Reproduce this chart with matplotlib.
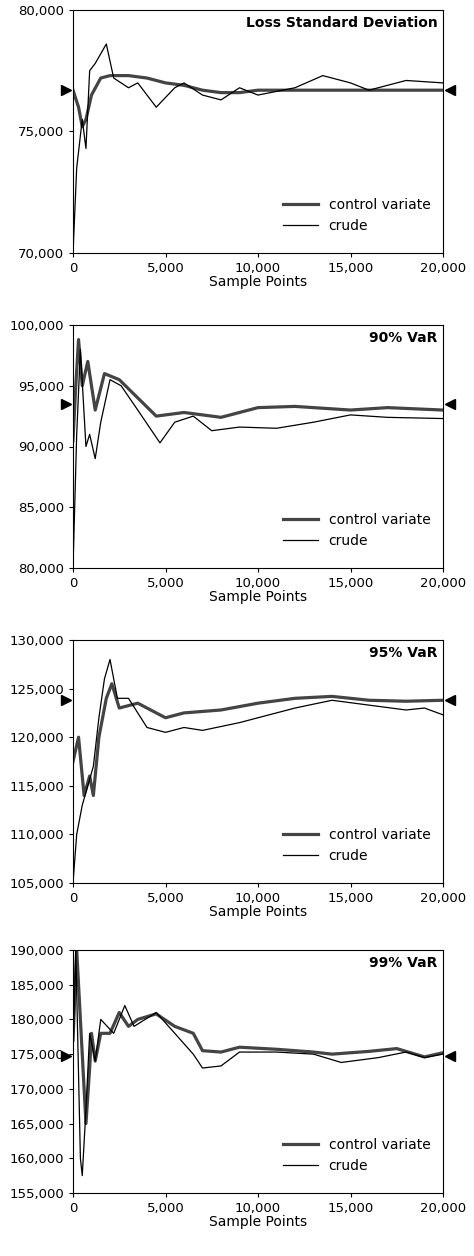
import matplotlib.pyplot as plt
import matplotlib.transforms as mtransforms
from matplotlib.ticker import FuncFormatter

titles = ['Loss Standard Deviation', '90% VaR', '95% VaR', '99% VaR']
ylims = [(70000, 80000), (80000, 100000), (105000, 130000), (155000, 190000)]
ystep = [5000, 5000, 5000, 5000]
targets = [76700, 93500, 123800, 174800]

cv_x = [
    [0, 300, 500, 700, 1000, 1500, 2000, 3000, 4000, 5000, 6000, 7000, 8000, 9000, 10000, 12000, 14000, 16000, 18000, 20000],
    [0, 150, 300, 500, 800, 1200, 1700, 2500, 3500, 4500, 6000, 8000, 10000, 12000, 15000, 17000, 20000],
    [0, 300, 600, 900, 1100, 1400, 1800, 2100, 2500, 3500, 5000, 6000, 8000, 10000, 12000, 14000, 16000, 18000, 20000],
    [0, 200, 400, 700, 900, 1000, 1200, 1500, 2000, 2500, 3000, 3500, 4500, 5500, 6500, 7000, 8000, 9000, 11000, 13000, 14000, 16000, 17500, 18500, 19000, 20000],
]
cv_y = [
    [76700, 76000, 75200, 75500, 76500, 77200, 77300, 77300, 77200, 77000, 76900, 76700, 76600, 76600, 76700, 76700, 76700, 76700, 76700, 76700],
    [90500, 95000, 98800, 95000, 97000, 93000, 96000, 95500, 94000, 92500, 92800, 92400, 93200, 93300, 93000, 93200, 93000],
    [117500, 120000, 114000, 116000, 114000, 120000, 124000, 125500, 123000, 123500, 122000, 122500, 122800, 123500, 124000, 124200, 123800, 123700, 123800],
    [177000, 190000, 180000, 165000, 173000, 178000, 174000, 178000, 178000, 181000, 179000, 180000, 180800, 179000, 178000, 175500, 175300, 176000, 175700, 175300, 175000, 175400, 175800, 175000, 174600, 175200],
]
cr_x = [
    [0, 200, 500, 700, 900, 1200, 1800, 2200, 3000, 3500, 4500, 5500, 6000, 7000, 8000, 9000, 10000, 12000, 13500, 15000, 16000, 18000, 20000],
    [0, 200, 400, 700, 900, 1200, 1500, 2000, 2600, 3500, 4700, 5500, 6500, 7500, 9000, 11000, 13000, 15000, 17000, 20000],
    [0, 200, 500, 800, 1100, 1400, 1700, 2000, 2400, 3000, 4000, 5000, 6000, 7000, 9000, 10000, 12000, 14000, 16000, 18000, 19000, 20000],
    [0, 150, 400, 500, 700, 900, 1200, 1500, 2200, 2800, 3300, 4500, 5500, 6500, 7000, 8000, 9000, 11000, 13000, 14500, 16500, 18000, 19000, 20000],
]
cr_y = [
    [70000, 73500, 75500, 74300, 77500, 77800, 78600, 77200, 76800, 77000, 76000, 76800, 77000, 76500, 76300, 76800, 76500, 76800, 77300, 77000, 76700, 77100, 77000],
    [80000, 91000, 98000, 90000, 91000, 89000, 92000, 95500, 95000, 93000, 90300, 92000, 92500, 91300, 91600, 91500, 92000, 92600, 92400, 92300],
    [105000, 110000, 113000, 115000, 117000, 122000, 126000, 128000, 124000, 124000, 121000, 120500, 121000, 120700, 121500, 122000, 123000, 123800, 123300, 122800, 123000, 122300],
    [175000, 190000, 160000, 157500, 167000, 178000, 174000, 180000, 178000, 182000, 179000, 181000, 178000, 175000, 173000, 173300, 175300, 175300, 175000, 173800, 174500, 175300, 174500, 175000],
]

fig = plt.figure(figsize=(4.74, 12.56), dpi=100)
fmt = FuncFormatter(lambda v, p: f'{int(v):,}')
tops = [10, 325, 640, 950]
for i in range(4):
    top = tops[i]
    ax = fig.add_axes([73 / 474, 1 - (top + 243) / 1256, 370 / 474, 243 / 1256])
    ax.plot(cv_x[i], cv_y[i], color='#444444', lw=2.3, label='control variate')
    ax.plot(cr_x[i], cr_y[i], color='black', lw=0.9, label='crude')
    ax.set_xlim(0, 20000)
    ax.set_ylim(*ylims[i])
    ax.set_xticks(range(0, 20001, 5000))
    ax.set_yticks(range(ylims[i][0], ylims[i][1] + 1, ystep[i]))
    ax.xaxis.set_major_formatter(fmt)
    ax.yaxis.set_major_formatter(fmt)
    ax.tick_params(labelsize=9.5, length=3)
    ax.set_xlabel('Sample Points', fontsize=10, labelpad=0)
    ax.text(0.985, 0.975, titles[i], transform=ax.transAxes, ha='right', va='top',
            fontsize=10, fontweight='bold')
    base = ax.get_yaxis_transform()
    left_t = base + mtransforms.ScaledTranslation(-5 / 72, 0, fig.dpi_scale_trans)
    right_t = base + mtransforms.ScaledTranslation(5 / 72, 0, fig.dpi_scale_trans)
    ax.plot([0], [targets[i]], marker='>', color='black', ms=7, clip_on=False,
            transform=left_t, linestyle='none')
    ax.plot([1], [targets[i]], marker='<', color='black', ms=7, clip_on=False,
            transform=right_t, linestyle='none')
    ax.legend(loc='lower right', frameon=False, fontsize=10, handlelength=2.5,
              bbox_to_anchor=(1.0, 0.03))

fig.savefig('out.png', dpi=100)
